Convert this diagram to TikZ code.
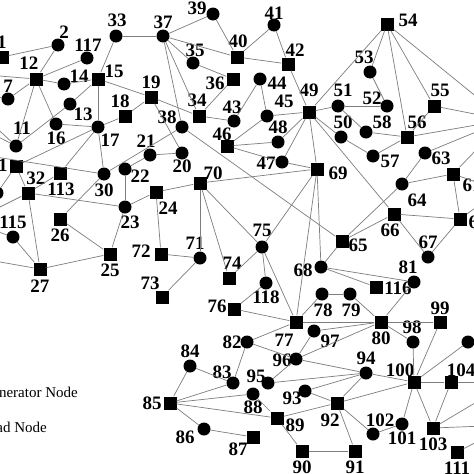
\documentclass[tikz,border=0pt]{standalone}
\usepackage{fontspec}
\setmainfont{Liberation Serif}
\begin{document}
\begin{tikzpicture}[x=1pt,y=-1pt,
  gen/.style={rectangle,fill=black,minimum size=13pt,inner sep=0pt},
  load/.style={circle,fill=black,minimum size=13pt,inner sep=0pt},
  lab/.style={font=\fontsize{19}{19}\selectfont\bfseries,inner sep=0pt},
  legtext/.style={font=\fontsize{15}{15}\selectfont,inner sep=0pt},
  link/.style={draw={rgb,255:red,125;green,125;blue,125},line width=0.7pt}]
\useasboundingbox (0,0) rectangle (474,474);
\fill[white] (0,0) rectangle (474,474);
\clip (0,0) rectangle (474,474);
\newcommand\Gn[3]{\node[gen] (n#1) at (#2) {}; \node[lab] (l#1) at (#3) {#1};}
\newcommand\Ld[3]{\node[load] (n#1) at (#2) {}; \node[lab] (l#1) at (#3) {#1};}
% off-canvas ends
\coordinate (n3) at (-25,74);
\coordinate (n4) at (-25,108);
\coordinate (n5) at (-25,125);
\coordinate (n6) at (-25,92);
\coordinate (n8) at (-30,153);
\coordinate (n28) at (-40,255);
\coordinate (n114) at (-30,222);
\coordinate (n59) at (505,120);
\coordinate (n60) at (500,190);
\coordinate (n105) at (510,382);
\coordinate (n110) at (510,425);
\node[load] (n29) at (-3,193) {};
\node[load] (n106) at (468,342) {};
% nodes
\Gn{1}{2,57}{2,42}
\Ld{2}{58,45}{64,32}
\Ld{117}{87,58}{88,45}
\Gn{12}{36,79}{29,63}
\Ld{14}{64,84}{79,76}
\Gn{15}{98,79}{114,71}
\Ld{7}{8,99}{8,86}
\Ld{13}{70,104}{83,114}
\Ld{16}{56,124}{56,138}
\Ld{11}{16,146}{22,128}
\Ld{17}{98,127}{110,140}
\Gn{18}{125,116}{120,101}
\Gn{19}{151,97}{151,82}
\Ld{33}{116,36}{117,20}
\Ld{37}{163,36}{163,22}
\Ld{39}{213,14}{197,8.5}
\Ld{41}{274,25}{274,13}
\Gn{40}{237,57}{238,41}
\Ld{35}{193,63}{195,50}
\Gn{42}{288,64}{295,50}
\Gn{36}{233,79}{215,83}
\Ld{44}{260,79}{277,83}
\Gn{34}{199,116}{197,100}
\Ld{43}{234,121}{232,107}
\Ld{45}{267,116}{284,101}
\Ld{38}{182,127}{167,117}
\Ld{48}{278,142}{278,127}
\Gn{46}{227,146}{222,134}
\Ld{21}{150,155}{146,141}
\Ld{20}{182,153}{182,166}
\Ld{47}{282,162}{266,163}
\Gn{49}{309,112}{309,90}
\Ld{51}{338,106}{343,90}
\Ld{52}{387,106}{372,98}
\Ld{53}{370,72}{364,57}
\Gn{54}{387,24}{408,20}
\Gn{55}{434,106}{440,90}
\Ld{50}{341,137}{343,122}
\Ld{58}{366,132}{382,122}
\Gn{56}{407,137}{417,122}
\Ld{57}{373,156}{390,161}
\Ld{63}{425,153}{441,158}
\Ld{64}{402,184}{417,200}
\Gn{61}{453,174}{472,185}
\Gn{62}{460,219}{478,222}
\Ld{67}{428,257}{428,242}
\Gn{69}{317,169}{338,173}
\Gn{66}{394,214}{390,230}
\Gn{65}{342,241}{358,245}
\Ld{68}{321,267}{303,270}
\Ld{81}{414,282}{408,267}
\Gn{116}{376,287}{398,288}
\Ld{78}{322,294}{323,310}
\Ld{79}{350,294}{351,310}
\Gn{31}{16,166}{-2,165}
\Gn{32}{28,193}{36,178}
\Gn{113}{60,173}{61,189}
\Ld{30}{104,174}{104,190}
\Ld{22}{125,169}{140,176}
\Ld{23}{125,207}{130,222}
\Gn{24}{156,192}{168,208}
\Gn{70}{200,183}{213,173}
\Gn{26}{60,219}{60,235}
\Ld{115}{13,237}{13,222}
\Gn{25}{110,254}{110,270}
\Gn{27}{40,269}{40,286}
\Gn{72}{161,254}{141,251}
\Ld{71}{200,258}{195,243}
\Gn{73}{162,297}{150,283}
\Gn{74}{229,278}{232,263}
\Ld{75}{262,247}{262,230}
\Ld{118}{266,283}{266,297}
\Gn{76}{234,309}{217,306}
\Gn{77}{296,322}{284,340}
\Ld{82}{247,342}{232,342}
\Ld{84}{190,366}{190,351}
\Ld{83}{233,383}{222,372}
\Ld{96}{296,359}{282,360}
\Ld{95}{268,383}{256,376}
\Ld{88}{253,394}{253,407}
\Gn{85}{170,403}{152,403}
\Gn{89}{277,418}{295,425}
\Ld{86}{204,429}{185,437}
\Gn{87}{253,437}{238,449}
\Gn{90}{302,451}{302,467}
\Ld{93}{305,391}{292,398}
\Ld{97}{314,331}{330,341}
\Gn{80}{381,322}{381,338}
\Gn{99}{440,322}{440,308}
\Ld{98}{413,342}{412,327}
\Ld{94}{366,373}{366,358}
\Gn{100}{414,382}{400,370}
\Gn{104}{451,382}{461,370}
\Gn{92}{337,403}{330,420}
\Ld{101}{402,424}{402,438}
\Ld{102}{373,434}{380,420}
\Gn{103}{433,428}{433,444}
\Gn{111}{457,452}{457,468}
\Gn{91}{355,451}{355,467}
% legend (cut by the frame)
\node[legtext,anchor=east] (legG) at (78,392) {Generator Node};
\node[legtext,anchor=east] (legL) at (47,427) {Load Node};
% connectors
\foreach \a/\b in {1/2,1/3,3/12,4/11,5/11,6/7,7/12,11/12,2/12,11/13,12/14,13/15,14/15,12/16,
  15/17,16/17,17/18,18/19,19/20,15/19,20/21,21/22,22/23,23/24,23/25,25/26,25/27,27/28,28/29,
  17/30,8/30,26/30,17/31,29/31,23/32,31/32,27/32,15/33,19/34,35/36,35/37,33/37,34/36,34/37,
  37/38,37/39,37/40,30/38,39/40,40/41,40/42,41/42,43/44,34/43,44/45,45/46,46/47,46/48,47/49,
  42/49,45/49,48/49,49/50,49/51,51/52,52/53,53/54,49/54,54/55,54/56,55/56,56/57,50/57,56/58,
  51/58,54/59,56/59,55/59,59/61,60/61,60/62,61/62,63/59,63/64,64/61,38/65,64/65,49/66,62/66,
  62/67,65/66,66/67,65/68,47/69,49/69,68/69,69/70,24/70,70/71,24/72,71/72,71/73,70/74,70/75,
  69/75,74/75,76/77,69/77,75/77,77/78,78/79,77/80,79/80,68/81,80/81,77/82,82/83,83/84,83/85,
  84/85,85/86,86/87,85/88,85/89,88/89,89/90,90/91,89/92,91/92,92/93,92/94,93/94,94/95,80/96,
  82/96,94/96,80/97,80/98,80/99,92/100,94/100,95/96,96/97,98/100,99/100,100/101,92/102,
  101/102,100/103,100/104,103/104,103/105,100/106,104/105,103/110,110/111,17/113,32/113,
  32/114,27/115,114/115,68/116,12/117,75/118,76/118}
  \draw[link] (n\a) -- (n\b);
\end{tikzpicture}
\end{document}
